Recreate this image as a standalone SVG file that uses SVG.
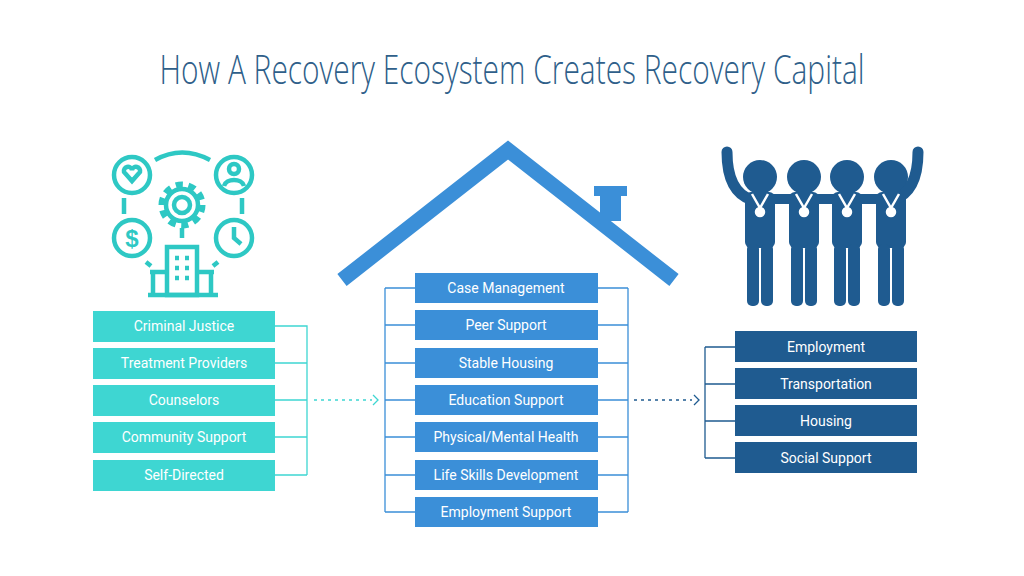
<svg xmlns="http://www.w3.org/2000/svg" width="1024" height="576" viewBox="0 0 1024 576">
<style>
.t{font-family:Roboto,"Liberation Sans",sans-serif;font-size:14px;fill:#fff;text-anchor:middle}
.tb{fill:#3ed6d2}.mb{fill:#3b8fd8}.db{fill:#1f5b90}
.lt{stroke:#3ed6d2;fill:none;stroke-width:1.3}.lm{stroke:#3b8fd8;fill:none;stroke-width:1.3}.ld{stroke:#1f5b90;fill:none;stroke-width:1.3}
.ic{stroke:#2ec8c4;fill:none;stroke-width:4.5}
</style>
<rect width="1024" height="576" fill="#fff"/>
<text x="512" y="84" font-family="'Open Sans',sans-serif" font-weight="300" font-size="40" fill="#2f5f8a" text-anchor="middle" textLength="705" lengthAdjust="spacingAndGlyphs">How A Recovery Ecosystem Creates Recovery Capital</text>
<g id="icon-ecosystem" class="ic">
<circle cx="132" cy="175" r="18"/><path d="M124 172a4 4 0 0 1 8-2a4 4 0 0 1 8 2l-8 9z"/>
<circle cx="234" cy="175" r="18"/><circle cx="234" cy="169" r="5"/><path d="M224 186c2-8 18-8 20 0"/>
<circle cx="132" cy="238" r="18"/><text x="132" y="247" font-family="'Liberation Sans',sans-serif" font-size="24" font-weight="bold" fill="#2ec8c4" stroke="none" text-anchor="middle">$</text>
<circle cx="234" cy="238" r="18"/><path d="M234 227v11l7 6"/>
<circle cx="182" cy="205" r="8"/><circle cx="182" cy="205" r="16"/><circle cx="182" cy="205" r="20" stroke-dasharray="7 5.5" stroke-width="7"/>
<path d="M155 160q27-15 55 0M124 198v16M242 198v16M146 262l5 4M218 262l-5 4" />
<rect x="167" y="247" width="30" height="48"/><path d="M150 272h17M197 272h17M153 272v23M211 272v23M148 295h70"/>
<path d="M175 258h4M185 258h4M175 268h4M185 268h4M175 278h4M185 278h4M182 228v10"/>
</g>
<g id="roof">
<polyline points="342,280 508,150 674,280" fill="none" stroke="#3b8fd8" stroke-width="15"/>
<rect x="594" y="186" width="33" height="10" class="mb"/><rect x="600" y="195" width="21" height="26" class="mb"/>
</g>
<g id="icon-people" class="db">
<g id="p1"><circle cx="760" cy="177" r="17"/><rect x="745" y="192" width="30" height="56" rx="6"/><rect x="747" y="244" width="12" height="62" rx="5"/><rect x="761" y="244" width="12" height="62" rx="5"/></g>
<use href="#p1" x="44"/><use href="#p1" x="87"/><use href="#p1" x="131"/>
<path d="M727 152q0 40 25 48M918 152q0 40-25 48" stroke="#1f5b90" stroke-width="11" fill="none" stroke-linecap="round"/>
<rect x="760" y="194" width="132" height="10"/>
<g stroke="#fff" stroke-width="2.5" fill="#fff"><path d="M752 194l8 14l8-14M796 194l8 14l8-14M839 194l8 14l8-14M883 194l8 14l8-14" fill="none"/><circle cx="760" cy="212" r="4"/><circle cx="804" cy="212" r="4"/><circle cx="847" cy="212" r="4"/><circle cx="891" cy="212" r="4"/>
<path d="M760 250v56M804 250v56M847 250v56M891 250v56" stroke-width="2"/></g>
</g>
<g id="connectors">
<path class="lt" d="M275 326h32v149M275 363h32M275 400h32M275 437h32M275 475h32"/>
<path class="lt" d="M314 400h58" stroke-dasharray="3 4" stroke-width="2"/><path class="lt" d="M373 395l5 5l-5 5" stroke-width="2"/>
<path class="lm" d="M385 288v224M385 288h30M385 325h30M385 363h30M385 400h30M385 437h30M385 475h30M385 512h30"/>
<path class="lm" d="M628 288v224M598 288h30M598 325h30M598 363h30M598 400h30M598 437h30M598 475h30M598 512h30"/>
<path class="ld" d="M634 400h58" stroke-dasharray="3 4" stroke-width="2"/><path class="ld" d="M694 395l5 5l-5 5" stroke-width="2"/>
<path class="ld" d="M705 347v111M705 347h30M705 384h30M705 421h30M705 458h30"/>
</g>
<g id="left">
<g id="n-cj"><rect class="tb" x="93" y="311" width="182" height="31"/><text class="t" x="184" y="331">Criminal Justice</text></g>
<g id="n-tp"><rect class="tb" x="93" y="348" width="182" height="31"/><text class="t" x="184" y="368">Treatment Providers</text></g>
<g id="n-co"><rect class="tb" x="93" y="385" width="182" height="31"/><text class="t" x="184" y="405">Counselors</text></g>
<g id="n-cs"><rect class="tb" x="93" y="422" width="182" height="31"/><text class="t" x="184" y="442">Community Support</text></g>
<g id="n-sd"><rect class="tb" x="93" y="460" width="182" height="31"/><text class="t" x="184" y="480">Self-Directed</text></g>
</g>
<g id="middle">
<g id="n-cm"><rect class="mb" x="415" y="273" width="183" height="30"/><text class="t" x="506" y="293">Case Management</text></g>
<g id="n-ps"><rect class="mb" x="415" y="310" width="183" height="30"/><text class="t" x="506" y="330">Peer Support</text></g>
<g id="n-sh"><rect class="mb" x="415" y="348" width="183" height="30"/><text class="t" x="506" y="368">Stable Housing</text></g>
<g id="n-es"><rect class="mb" x="415" y="385" width="183" height="30"/><text class="t" x="506" y="405">Education Support</text></g>
<g id="n-pm"><rect class="mb" x="415" y="422" width="183" height="30"/><text class="t" x="506" y="442">Physical/Mental Health</text></g>
<g id="n-ls"><rect class="mb" x="415" y="460" width="183" height="30"/><text class="t" x="506" y="480">Life Skills Development</text></g>
<g id="n-em"><rect class="mb" x="415" y="497" width="183" height="30"/><text class="t" x="506" y="517">Employment Support</text></g>
</g>
<g id="right">
<g id="n-e"><rect class="db" x="735" y="331" width="182" height="31"/><text class="t" x="826" y="352">Employment</text></g>
<g id="n-t"><rect class="db" x="735" y="368" width="182" height="31"/><text class="t" x="826" y="389">Transportation</text></g>
<g id="n-h"><rect class="db" x="735" y="405" width="182" height="31"/><text class="t" x="826" y="426">Housing</text></g>
<g id="n-s"><rect class="db" x="735" y="442" width="182" height="31"/><text class="t" x="826" y="463">Social Support</text></g>
</g>
</svg>
